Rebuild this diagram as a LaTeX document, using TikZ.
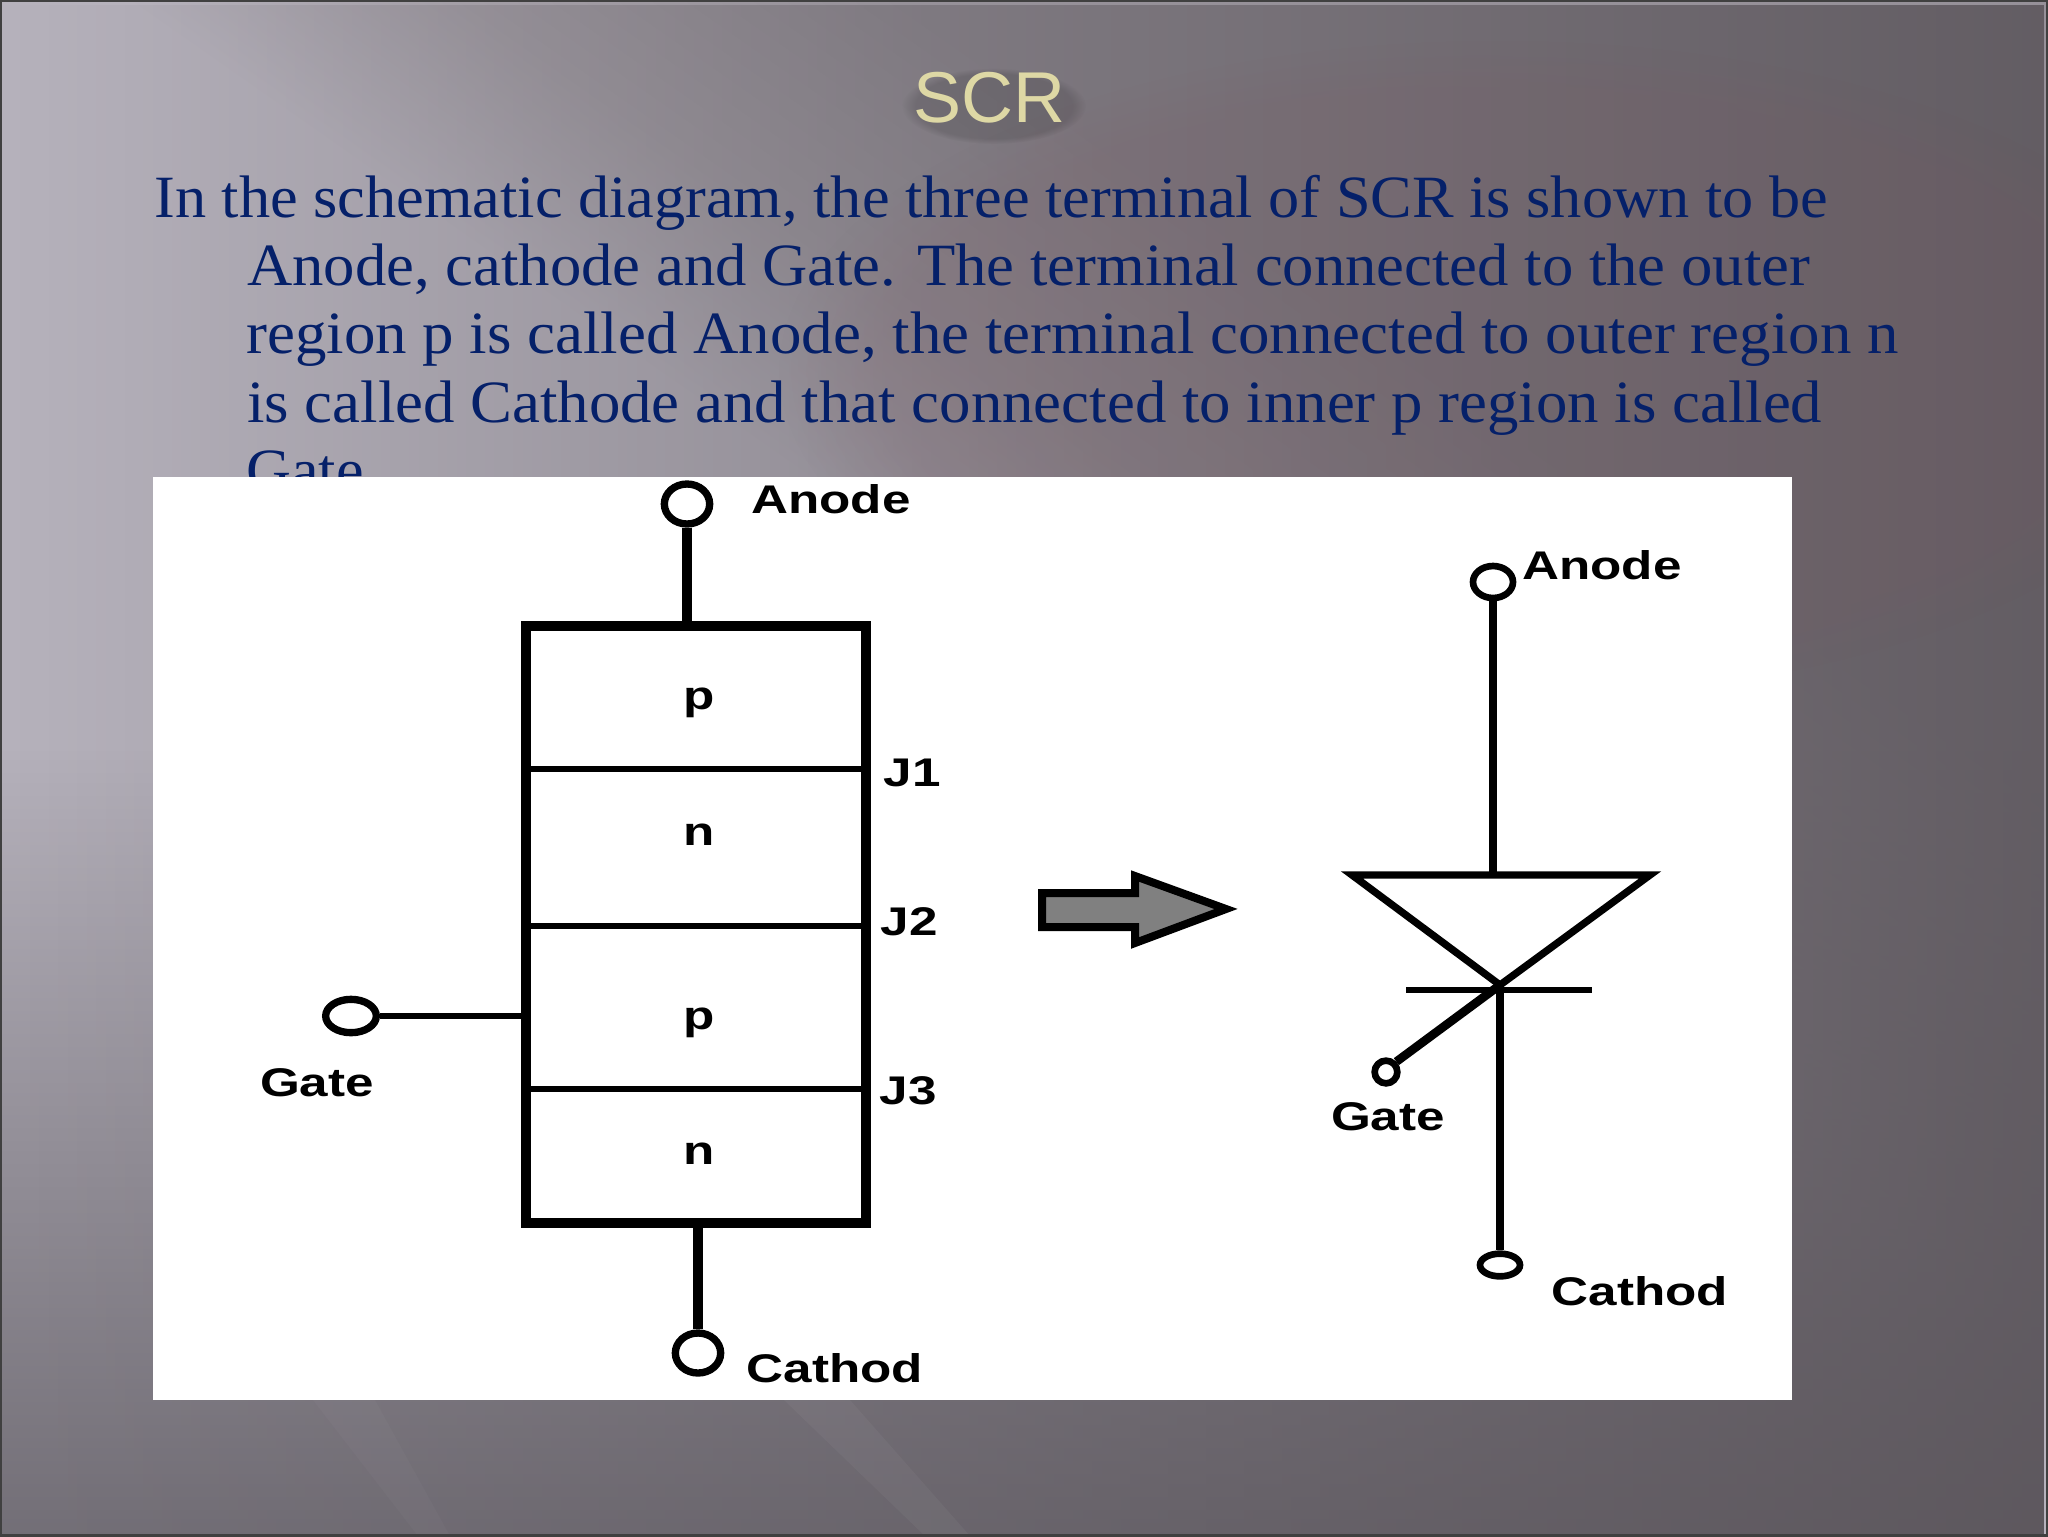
\documentclass[tikz,border=0pt]{standalone}
\usepackage{amsmath}
\usepackage{graphicx}
\usepackage{fontspec}
\usepackage{tikz}
\usetikzlibrary{shapes.geometric,fadings}
\setmainfont{Liberation Serif}
\newfontfamily\labelfont{Liberation Sans}
\definecolor{bodyblue}{RGB}{5,32,105}
\definecolor{titlegold}{RGB}{222,216,165}
\definecolor{arrowgrey}{RGB}{128,128,128}
\definecolor{bandlight}{RGB}{182,178,188}
\definecolor{bandmid}{RGB}{163,158,166}
\definecolor{banddark}{RGB}{150,145,153}
\definecolor{lowgrey}{RGB}{112,108,116}
\definecolor{rightdark}{RGB}{90,84,90}
\definecolor{rosetint}{RGB}{125,85,95}
\pgfdeclarehorizontalshading{slideband}{100bp}{
  color(0bp)=(bandlight);
  color(52bp)=(bandlight);
  color(55.5bp)=(bandmid);
  color(60bp)=(banddark);
  color(100bp)=(banddark)}
\tikzfading[name=fade right,left color=transparent!100,right color=transparent!15]
\tikzfading[name=fade low,top color=transparent!100,bottom color=transparent!5]
\tikzset{
  heavy/.style={line width=7pt,black},
  medium/.style={line width=5pt,black},
  terminal/.style={ellipse,draw=black,fill=white,line width=5.5pt,inner sep=0pt},
  wirelabel/.style={inner sep=0pt,font=\labelfont\bfseries\fontsize{30}{30}\selectfont},
  bodyline/.style={anchor=base west,inner sep=0pt,text=bodyblue,font=\fontsize{45}{50}\selectfont},
  titletext/.style={inner sep=0pt,font=\labelfont\fontsize{54}{54}\selectfont},
}
\newcommand{\wide}[1]{\scalebox{1.28}[1]{#1}}
\begin{document}
\begin{tikzpicture}[x=0.75pt,y=0.75pt,yscale=-1,xscale=1]
\useasboundingbox (0,0) rectangle (2048,1536);

%Shape: Background
\begin{scope}
\clip (0,0) rectangle (2048,1536);
\shade[shading=slideband,shading angle=55] (-376,-632) rectangle (2424,2168);
\end{scope}
\fill[lowgrey,path fading=fade low] (0,750) rectangle (2048,1536);
\fill[rightdark,path fading=fade right] (0,0) rectangle (2048,1536);
\fill[rosetint,opacity=0.14,path fading=circle with fuzzy edge 15 percent] (1500,370) ellipse (720 and 330);
\fill[white,opacity=0.025] (313,1400) -- (375,1400) -- (450,1536) -- (418,1536) -- cycle;
\fill[white,opacity=0.04] (784,1400) -- (850,1400) -- (970,1536) -- (925,1536) -- cycle;
\draw[black!75,line width=3pt] (0,0) rectangle (2048,1536);

%Shape: Title shadow
\fill[black,opacity=0.13,path fading=circle with fuzzy edge 15 percent] (994,106) ellipse (92 and 38);
% Text Node
\node (title) [titletext,text=titlegold] at (989,98) {SCR};
% Text Node
\node (line one) [bodyline] at (154,217) {\resizebox{1255pt}{\height}{In the schematic diagram, the three terminal of SCR is shown to be}};
\node (line two) [bodyline] at (247,285) {\resizebox{1172pt}{\height}{Anode, cathode and Gate. The terminal connected to the outer}};
\node (line three) [bodyline] at (246,353) {\resizebox{1239pt}{\height}{region p is called Anode, the terminal connected to outer region n}};
\node (line four) [bodyline] at (247,422) {\resizebox{1181pt}{\height}{is called Cathode and that connected to inner p region is called}};
\node (line five) [bodyline] at (246,490) {\resizebox{88pt}{\height}{Gate}};

%Shape: Rectangle
\fill[white] (153,477) rectangle (1792,1400);

%Shape: Rectangle
\coordinate (boxNW) at (526,626);
\coordinate (boxSE) at (866,1223);
\draw[heavy] (boxNW) rectangle (boxSE);
\coordinate (j1L) at (526,769);
\coordinate (j1R) at (866,769);
\coordinate (j2L) at (526,926);
\coordinate (j2R) at (866,926);
\coordinate (j3L) at (526,1089);
\coordinate (j3R) at (866,1089);
\draw[medium] (j1L) -- (j1R);
\draw[medium] (j2L) -- (j2R);
\draw[medium] (j3L) -- (j3R);

%Left terminals
\node (anodeA) [terminal,minimum width=34pt,minimum height=30pt] at (687,504) {};
\node (gateA) [terminal,minimum width=38pt,minimum height=25pt] at (351,1016) {};
\node (cathodA) [terminal,minimum width=34pt,minimum height=30pt] at (698,1353) {};
\coordinate (anodeFoot) at (687,626);
\coordinate (cathodFoot) at (698,1223);
\coordinate (gateFoot) at (526,1016);
\draw[heavy] (anodeA.south) -- (anodeFoot);
\draw[heavy] (cathodFoot) -- (cathodA.north);
\draw[medium] (gateA.east) -- (gateFoot);

% Text Node
\node (anodeLabelA) [wirelabel] at (831,499) {\wide{Anode}};
\node (cathodLabelA) [wirelabel] at (835,1368) {\wide{Cathod}};
\node (gateLabelA) [wirelabel] at (317,1083) {\wide{Gate}};
\node (j1) [wirelabel] at (912,773) {\wide{J1}};
\node (j2) [wirelabel] at (909,922) {\wide{J2}};
\node (j3) [wirelabel] at (908,1091) {\wide{J3}};
\node (regionA) [wirelabel] at (699,703) {\wide{p}};
\node (regionB) [wirelabel] at (699,835) {\wide{n}};
\node (regionC) [wirelabel] at (699,1023) {\wide{p}};
\node (regionD) [wirelabel] at (699,1154) {\wide{n}};

%Shape: Arrow
\draw[heavy,line width=6pt,fill=arrowgrey,miter limit=10] (1042,893) -- (1135,893) -- (1135,876) -- (1226,909) -- (1135,943) -- (1135,927) -- (1042,927) -- cycle;

%Symbol
\coordinate (triL) at (1352,875);
\coordinate (triR) at (1650,875);
\coordinate (apex) at (1500,985);
\coordinate (barL) at (1406,990);
\coordinate (barR) at (1592,990);
\coordinate (anodeFootB) at (1493,875);
\draw[medium,line width=5.5pt,miter limit=10] (triL) -- (triR) -- (apex) -- cycle;
\draw[medium,line width=4.5pt] (barL) -- (barR);
\node (anodeB) [terminal,line width=5pt,minimum width=30pt,minimum height=24pt] at (1493,582) {};
\node (cathodB) [terminal,line width=5pt,minimum width=30pt,minimum height=17pt] at (1500,1265) {};
\node (gateB) [terminal,line width=5pt,minimum width=17pt,minimum height=17pt] at (1386,1072) {};
\draw[heavy,line width=6.5pt] (anodeB.south) -- (anodeFootB);
\draw[heavy,line width=6.5pt] (apex) -- (cathodB.north);
\draw[heavy,line width=6.5pt] (apex) -- (gateB.north east);

% Text Node
\node (anodeLabelB) [wirelabel] at (1602,565) {\wide{Anode}};
\node (gateLabelB) [wirelabel] at (1388,1117) {\wide{Gate}};
\node (cathodLabelB) [wirelabel] at (1640,1291) {\wide{Cathod}};

\end{tikzpicture}
\end{document}
